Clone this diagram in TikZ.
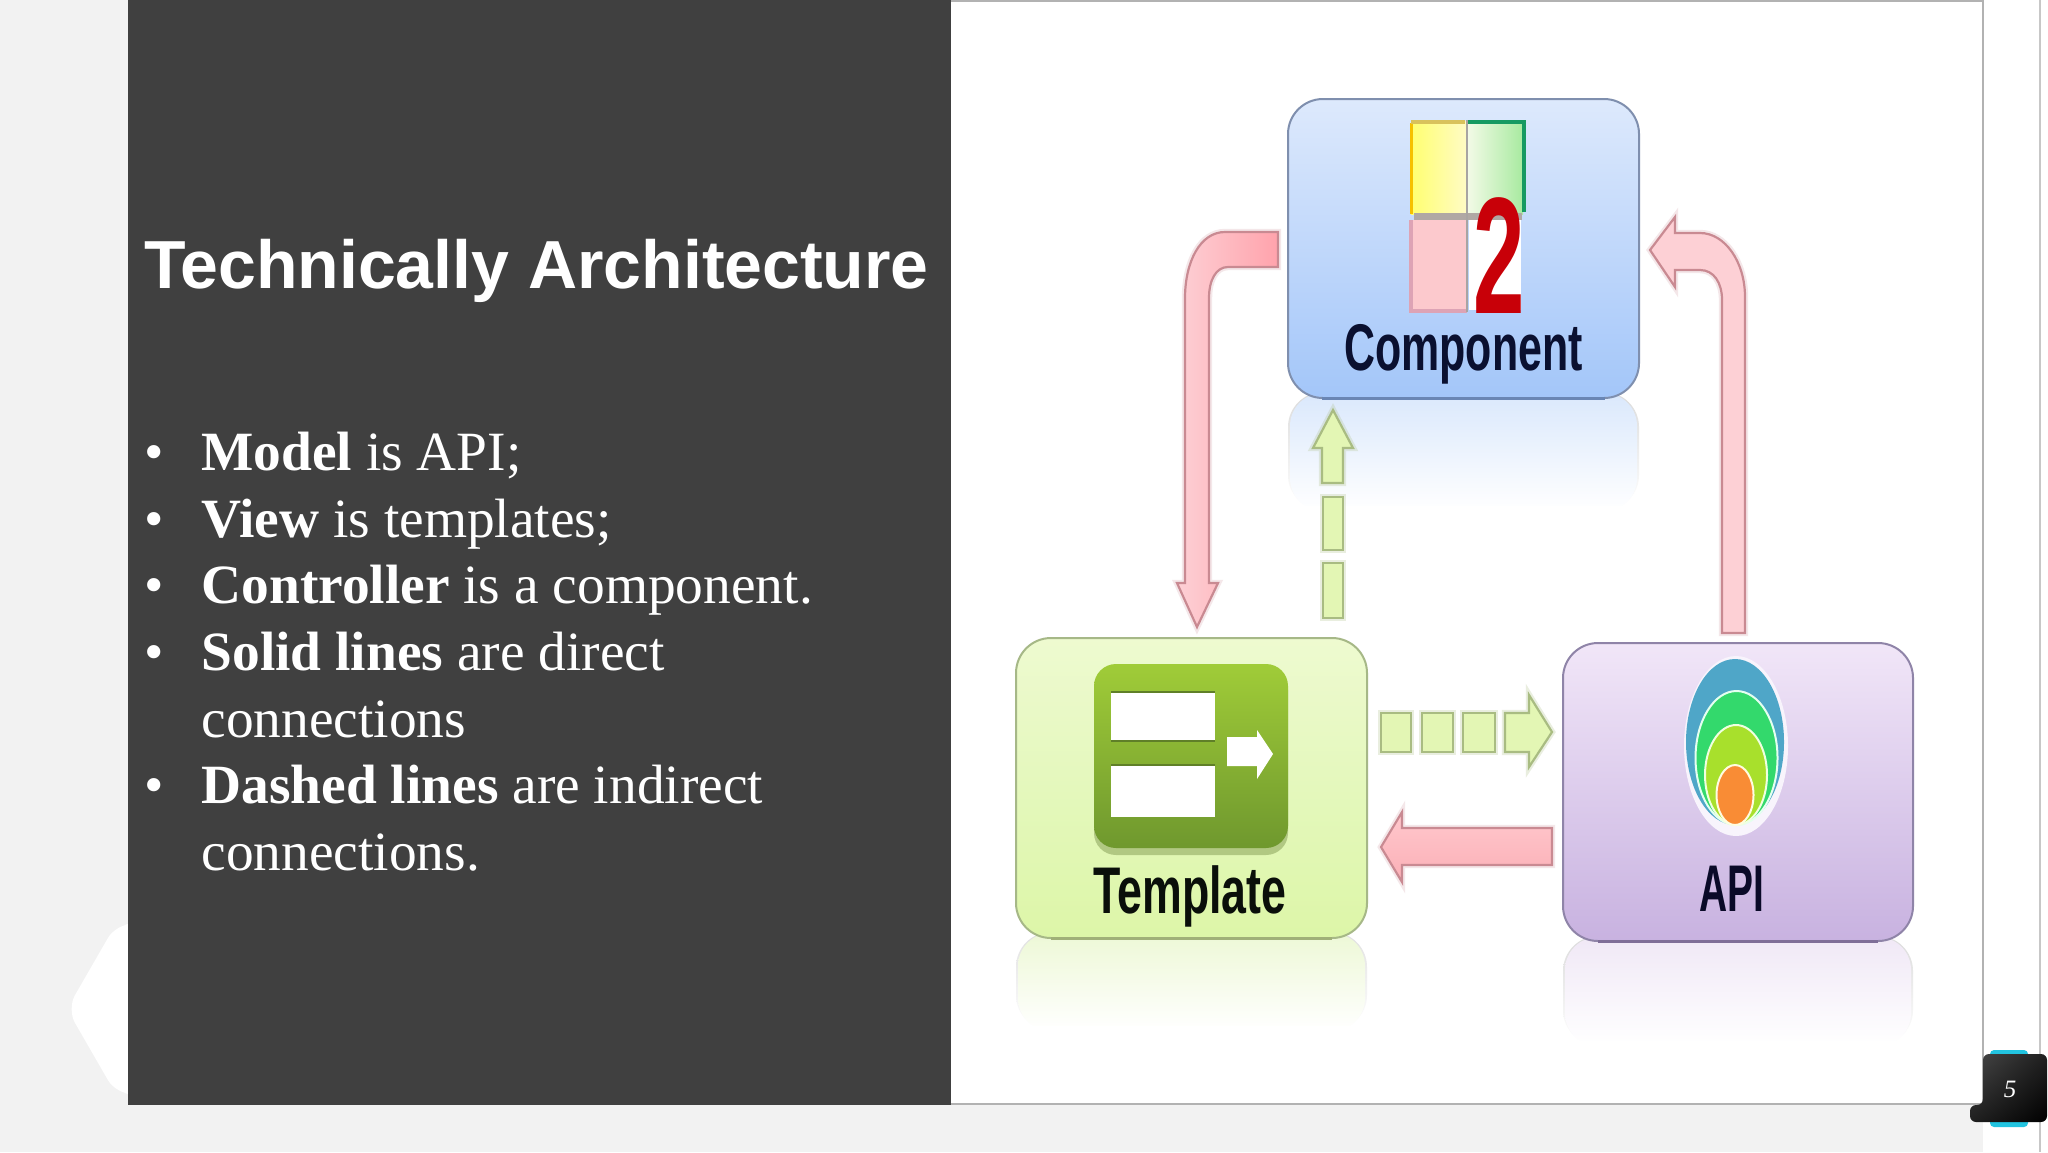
\documentclass[tikz,border=0pt]{standalone}
\usepackage{fontspec}
\usetikzlibrary{shadings}
\setmainfont{Liberation Serif}
\newfontfamily\arialf{Liberation Sans}
\newcommand{\hx}[1]{\definecolor{#1}{HTML}{#1}}
\hx{DAE8FC}\hx{EDF8D6}\hx{F0E8F6}\hx{DDE9FC}\hx{A3C6F9}\hx{A6B887}\hx{EEFAD0}\hx{DDF6A8}\hx{E4F8BC}\hx{A0B078}
\hx{8F84A8}\hx{F1E6F8}\hx{C8B2E0}\hx{7F6E98}\hx{FFFF70}\hx{FFFBC4}\hx{F2FAE6}\hx{A8EAA0}\hx{FCC9CD}\hx{F6C000}
\hx{D9C25C}\hx{169A62}\hx{DDA3B5}\hx{B0A8A4}\hx{A8A4A2}\hx{C80008}\hx{0A1030}\hx{9DB56E}\hx{A0CC38}\hx{6F982E}
\hx{5F7F28}\hx{0A0F0A}\hx{F8F4FC}\hx{4FA6C8}\hx{E4FFF0}\hx{33D96C}\hx{F0FFE0}\hx{A8E02C}\hx{FFFCE0}\hx{F98C35}
\hx{0A0A28}\hx{FFC8CD}\hx{FBAFB6}\hx{22C4E0}\hx{484848}\hx{000000}\hx{202020}\hx{7F8FAE}\hx{6A86B4}
\definecolor{pagebg}{HTML}{F2F2F2}
\definecolor{panel}{HTML}{404040}
\definecolor{pinkline}{HTML}{C98A92}
\definecolor{pinkfill}{HTML}{FDD0D5}
\definecolor{pinkdeep}{HTML}{FFA3AC}
\definecolor{greenline}{HTML}{A9BC82}
\definecolor{greenfill}{HTML}{E3F6B4}
\tikzset{
  lbl/.style={inner sep=0pt,outer sep=0pt},
  titletext/.style={lbl,anchor=base west,text=white,font=\arialf\bfseries\fontsize{34}{40}\selectfont},
  bodytext/.style={lbl,anchor=base west,text=white,font=\fontsize{27.7}{33}\selectfont},
  bigtext/.style={lbl,anchor=base,font=\arialf\bfseries\fontsize{33}{38}\selectfont},
  boxbase/.style={draw,line width=1pt,rounded corners=17.5pt,minimum width=#1,outer sep=0pt,inner sep=0pt},
  pinkarrow/.style={draw=pinkline,line width=1.1pt,line join=miter,preaction={draw=pinkline,line width=3.2pt,opacity=.2}},
  greenarrow/.style={draw=greenline,line width=1.1pt,fill=greenfill,preaction={draw=greenline,line width=3.2pt,opacity=.25}},
}
\newcommand{\reflect}[6]{% x1,y1,x2,y2,edge,tint
  \shade[top color=#5,bottom color=white,rounded corners=17.5pt] (#1,#2) -- (#1,#4) -- (#3,#4) -- (#3,#2) -- cycle;
  \shade[top color=#6,bottom color=white,rounded corners=16.5pt] (#1+2,#2+1) -- (#1+2,#4+1) -- (#3-2,#4+1) -- (#3-2,#2+1) -- cycle;
  \fill[white] (#1-2,#4-4) rectangle (#3+2,#4+2);
}
\begin{document}
\begin{tikzpicture}[x=0.5pt,y=-0.5pt]
\useasboundingbox (0,0) rectangle (2048,1152);
% page
\fill[pagebg] (0,0) rectangle (2048,1152);
\fill[white] (1983,0) rectangle (2048,1152);
\draw[black!22,line width=1pt] (2040,0) -- (2040,1152);
% hexagon
\fill[white,rounded corners=8pt] (67,1009) -- (116,924) -- (140,924) -- (140,1094) -- (116,1094) -- cycle;
% image area
\fill[white] (951,0) rectangle (1983,1104);
\draw[black!30,line width=1pt] (951,1) -- (1983,1) -- (1983,1104) -- (951,1104);
% dark panel
\fill[panel] (128,0) rectangle (951,1105);
% title and bullets
\node[titletext] (title) at (144,288) {Technically Architecture};
\node[bodytext] (b1) at (144,470) {•};
\node[bodytext] (l1) at (201.5,470) {\textbf{Model} is API;};
\node[bodytext] (b2) at (144,537) {•};
\node[bodytext] (l2) at (201.5,537) {\textbf{View} is templates;};
\node[bodytext] (b3) at (144,603) {•};
\node[bodytext] (l3) at (201.5,603) {\textbf{Controller} is a component.};
\node[bodytext] (b4) at (144,670) {•};
\node[bodytext] (l4) at (201.5,670) {\textbf{Solid lines} are direct};
\node[bodytext] (l4b) at (201.5,737) {connections};
\node[bodytext] (b5) at (144,803) {•};
\node[bodytext] (l5) at (201.5,803) {\textbf{Dashed lines} are indirect};
\node[bodytext] (l5b) at (201.5,870) {connections.};
% reflections
\reflect{1288}{392}{1639}{510}{black!14}{DAE8FC}
\reflect{1016}{932}{1367}{1030}{black!12}{EDF8D6}
\reflect{1563}{936}{1913}{1045}{black!14}{F0E8F6}
% component box
\node[boxbase=175.5pt,minimum height=149.5pt,draw=7F8FAE,top color=DDE9FC,bottom color=A3C6F9,anchor=north west] (component) at (1288,99) {};
\draw[6A86B4,line width=1.6pt] (1322,398.5) -- (1605,398.5);
% template box
\node[boxbase=175.5pt,minimum height=150pt,draw=A6B887,top color=EEFAD0,bottom color=DDF6A8,middle color=E4F8BC,anchor=north west] (template) at (1016,638) {};
\draw[A0B078,line width=1.6pt] (1051,938.5) -- (1332,938.5);
% api box
\node[boxbase=175pt,minimum height=149pt,draw=8F84A8,top color=F1E6F8,bottom color=C8B2E0,anchor=north west] (api) at (1563,643) {};
\draw[7F6E98,line width=1.6pt] (1598,941.5) -- (1878,941.5);
% component icon
\shade[left color=FFFF70,right color=FFFBC4] (1411,121) rectangle (1466,214);
\shade[left color=F2FAE6,right color=A8EAA0] (1468,122) rectangle (1523,214);
\fill[FCC9CD] (1411,220) rectangle (1466,310);
\fill[white] (1469,220) rectangle (1521,310);
\draw[F6C000,line width=1.5pt] (1411,214) -- (1411,123);
\draw[D9C25C,line width=2.2pt] (1411,122) -- (1465,122);
\draw[169A62,line width=2.4pt] (1468,122) -- (1524,122) -- (1524,212);
\draw[DDA3B5,line width=1.6pt] (1411,220) -- (1411,311) -- (1467,311);
\draw[B0A8A4,line width=3.2pt] (1414,216.5) -- (1522,216.5);
\draw[A8A4A2,line width=1pt] (1467,120) -- (1467,312);
\node[lbl,anchor=base,xscale=.557,text=C80008,font=\arialf\bfseries\fontsize{83}{84}\selectfont] (two) at (1499.5,313) {2};
\node[bigtext,xscale=.65,text=0A1030] (complabel) at (1463.5,370) {Component};
% template icon
\fill[9DB56E,opacity=.7,rounded corners=11pt] (1094,668) rectangle (1288,855);
\shade[top color=A0CC38,bottom color=6F982E,rounded corners=11pt] (1094,664) rectangle (1288,848);
\fill[white] (1111,693) rectangle (1215,740);
\fill[white] (1111,766) rectangle (1215,817);
\draw[5F7F28,line width=1.2pt] (1111,692) -- (1215,692) (1111,741) -- (1215,741) (1111,765) -- (1215,765);
\fill[white] (1227,737) -- (1257,737) -- (1257,730) -- (1273,754) -- (1257,779) -- (1257,766) -- (1227,766) -- cycle;
\node[bigtext,xscale=.677,text=0A0F0A] (templabel) at (1190,913) {Template};
% api icon
\fill[F8F4FC] (1736,746) ellipse [x radius=52,y radius=90];
\fill[4FA6C8] (1735,742) ellipse [x radius=49,y radius=83];
\draw[E4FFF0,fill=33D96C,line width=1pt] (1736.5,758) ellipse [x radius=41,y radius=67];
\draw[F0FFE0,fill=A8E02C,line width=1pt] (1736,775) ellipse [x radius=31,y radius=50];
\draw[FFFCE0,fill=F98C35,line width=1pt] (1735,795) ellipse [x radius=18.5,y radius=30];
\node[bigtext,xscale=.59,text=0A0A28] (apilabel) at (1732,911) {API};
% solid pink bent arrow: component to template
\path[pinkarrow,left color=pinkfill,right color=pinkdeep] (1278,232) -- (1225,232) .. controls (1200,232) and (1185,262) .. (1185,298) -- (1185,583) -- (1177,583) -- (1197,627) -- (1218,583) -- (1209,583) -- (1209,298) .. controls (1209,280) and (1216,267) .. (1228,267) -- (1278,267) -- cycle;
% solid pink bent arrow: api to component
\path[pinkarrow,fill=pinkfill] (1745,633) -- (1745,297) .. controls (1745,262) and (1725,233) .. (1700,233) -- (1675,233) -- (1675,217) -- (1650,250) -- (1675,287) -- (1675,270) -- (1700,270) .. controls (1714,270) and (1722,283) .. (1722,300) -- (1722,633) -- cycle;
% solid pink arrow: api to template
\path[pinkarrow,top color=FFC8CD,bottom color=FBAFB6] (1552,828) -- (1402,828) -- (1402,812) -- (1381,847) -- (1402,882) -- (1402,865) -- (1552,865) -- cycle;
% dashed green arrow: template to component
\path[greenarrow] (1323,563) rectangle (1343,618);
\path[greenarrow] (1323,497) rectangle (1343,550);
\path[greenarrow] (1333,410) -- (1353,448) -- (1343,448) -- (1343,483) -- (1322,483) -- (1322,448) -- (1313,448) -- cycle;
% dashed green arrow: template to api
\path[greenarrow] (1381,713) rectangle (1411,752);
\path[greenarrow] (1422,713) rectangle (1453,752);
\path[greenarrow] (1463,713) rectangle (1495,752);
\path[greenarrow] (1505,713) -- (1529,713) -- (1529,695) -- (1552,732) -- (1529,767) -- (1529,752) -- (1505,752) -- cycle;
% page number badge
\fill[22C4E0,rounded corners=2pt] (1990,1050) rectangle (2028,1127);
\shade[upper left=484848,lower right=000000,upper right=202020,lower left=202020,rounded corners=3pt] (1983,1054) -- (2047,1054) -- (2047,1122) -- (1970,1122) -- (1970,1105) -- (1983,1105) -- cycle;
\node[lbl,anchor=center,text=white,font=\itshape\fontsize{12.5}{14}\selectfont] (pageno) at (2010,1089) {5};
\end{tikzpicture}
\end{document}
